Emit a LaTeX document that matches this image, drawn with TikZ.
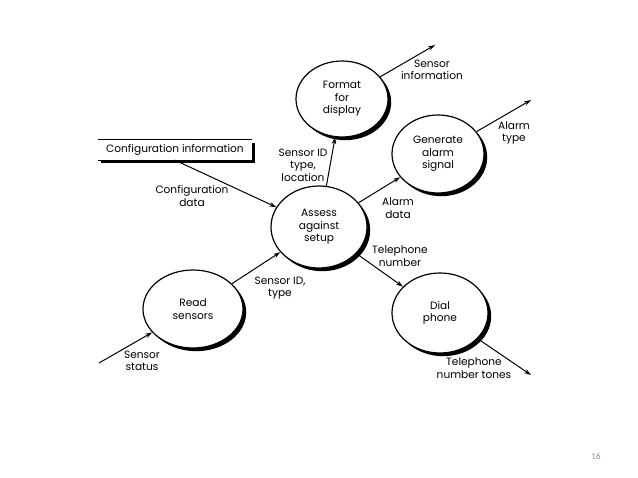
\documentclass[tikz,border=0pt]{standalone}
\usepackage{fontspec}
\newfontfamily\dfdfont{Poppins}
\newfontfamily\pgfont{Carlito}
\usetikzlibrary{shapes.geometric,shadows,arrows.meta}

\begin{document}
\begin{tikzpicture}
	[
	x=1pt, y=-1pt,
	align=center,
	font=\dfdfont\fontsize{10.6}{12.6}\selectfont,
	proc/.style={ellipse, draw, line width=1.2pt, fill=white, inner sep=0pt,
		general shadow={fill=black, shadow xshift=3.2pt, shadow yshift=-3.2pt}},
	store/.style={fill=white, minimum width=154pt, minimum height=20pt, inner sep=0pt,
		general shadow={fill=black, shadow xshift=3pt, shadow yshift=-3pt}},
	flow/.style={line width=1pt, -{Stealth[length=7pt,width=4.5pt]}},
	lbl/.style={inner sep=0pt},
	]
		\useasboundingbox (0,0) rectangle (638,478);
		
		% processes
		\node[proc, minimum width=92pt, minimum height=76pt] (fmt) at 		(342, 99) {Format\\for\\display};
		\node[proc, minimum width=92pt, minimum height=78pt] (gen) at 		(438,154) {Generate\\alarm\\signal};
		\node[proc, minimum width=96pt, minimum height=82pt] (assess) at 	(319,227) {Assess\\against\\setup};
		\node[proc, minimum width=100pt, minimum height=78pt] (read) at 	(193,309) {Read\\sensors};
		\node[proc, minimum width=96pt, minimum height=80pt] (dial) at 		(440,313) {Dial\\phone};
		
		% data store
		\node[store] (cfg) at 		(175,150) {Configuration information};
		\draw[line width=1pt] (cfg.north west) -- (cfg.north east) (cfg.south west) -- (cfg.south east);
		
		% free ends
		\coordinate (sin) at 		( 99,363);
		\coordinate (sinfo) at 		(435, 45);
		\coordinate (atype) at 		(531,100);
		\coordinate (tones) at 		(531,375);
		
		% flow labels
		\node[lbl] (lcfg) at 		(192,196) {Configuration\\data};
		\node[lbl] (lid) at 		(303,165) {Sensor ID\\type,\\location};
		\node[lbl] (linfo) at 		(432, 70) {Sensor\\information};
		\node[lbl] (latype) at 		(514,133) {Alarm\\type};
		\node[lbl] (ladata) at 		(398,208) {Alarm\\data};
		\node[lbl] (ltel) at 		(400,256) {Telephone\\number};
		\node[lbl] (ltones) at 		(474,368) {Telephone\\number tones};
		\node[lbl] (lread) at 		(280,288) {Sensor ID,\\type};
		\node[lbl] (lstat) at 		(142,361) {Sensor\\status};
		
		\draw[flow] (cfg.south) -- (assess);
		\foreach \from/\to in {sin/read,read/assess,assess/fmt,assess/gen,assess/dial,fmt/sinfo,gen/atype,dial/tones} \draw[flow] (\from) -- (\to);
		
		% page number
		\node[font=\pgfont\fontsize{9}{10}\selectfont, text=black!45] (page) at (596,456) {16};
		
	\end{tikzpicture}
\end{document}
